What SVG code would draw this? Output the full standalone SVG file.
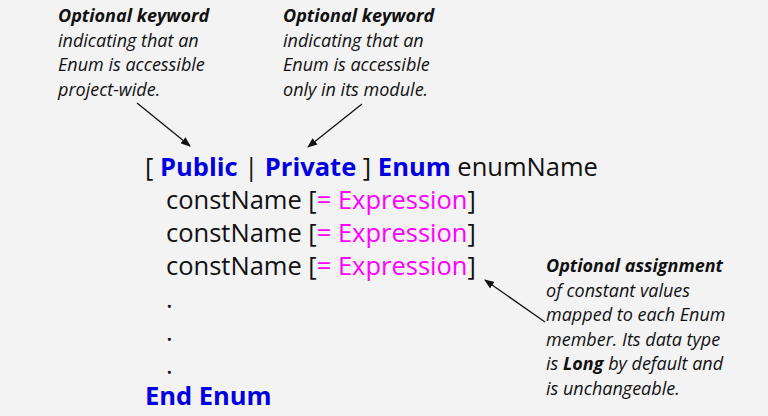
<svg xmlns="http://www.w3.org/2000/svg" width="768" height="416" viewBox="0 0 768 416">
<style>
.n{font-family:"Open Sans","Noto Sans",sans-serif;font-size:18px;font-style:italic;fill:#111}
.c{font-family:"Open Sans","Noto Sans",sans-serif;font-size:25.5px;fill:#111}
.k{fill:#0000e0;font-weight:bold}
.m{fill:#ff00ff}
.a{stroke:#111;stroke-width:1.3;fill:none;marker-end:url(#ah)}
</style>
<defs><marker id="ah" markerWidth="10" markerHeight="8" refX="9" refY="4" orient="auto" markerUnits="userSpaceOnUse"><path d="M0,0 L10,4 L0,8 z" fill="#111"/></marker></defs>
<rect width="768" height="416" fill="#f3f3f4"/>
<g id="note-public"><text class="n" x="58" y="22"><tspan font-weight="bold">Optional keyword</tspan><tspan x="58" dy="24.5">indicating that an</tspan><tspan x="58" dy="24.5">Enum is accessible</tspan><tspan x="58" dy="24.5">project-wide.</tspan></text></g>
<g id="note-private"><text class="n" x="283" y="22"><tspan font-weight="bold">Optional keyword</tspan><tspan x="283" dy="24.5">indicating that an</tspan><tspan x="283" dy="24.5">Enum is accessible</tspan><tspan x="283" dy="24.5">only in its module.</tspan></text></g>
<g id="note-assign"><text class="n" x="546" y="272"><tspan font-weight="bold">Optional assignment</tspan><tspan x="546" dy="24.6">of constant values</tspan><tspan x="546" dy="24.6">mapped to each Enum</tspan><tspan x="546" dy="24.6">member. Its data type</tspan><tspan x="546" dy="24.6">is <tspan font-weight="bold">Long</tspan> by default and</tspan><tspan x="546" dy="24.6">is unchangeable.</tspan></text></g>
<g id="code">
<text class="c" x="145" y="176">[ <tspan class="k">Public</tspan> | <tspan class="k">Private</tspan> ] <tspan class="k">Enum</tspan> enumName</text>
<text class="c" x="166" y="209">constName [<tspan class="m">= Expression</tspan>]</text>
<text class="c" x="166" y="242">constName [<tspan class="m">= Expression</tspan>]</text>
<text class="c" x="166" y="275">constName [<tspan class="m">= Expression</tspan>]</text>
<text class="c" x="166" y="308">.</text>
<text class="c" x="166" y="341">.</text>
<text class="c" x="166" y="374">.</text>
<text class="c k" x="145" y="405">End Enum</text>
</g>
<g id="connectors">
<line class="a" x1="137" y1="103" x2="190" y2="146"/>
<line class="a" x1="362" y1="104" x2="308" y2="147"/>
<line class="a" x1="545" y1="322" x2="485" y2="280"/>
</g>
</svg>
